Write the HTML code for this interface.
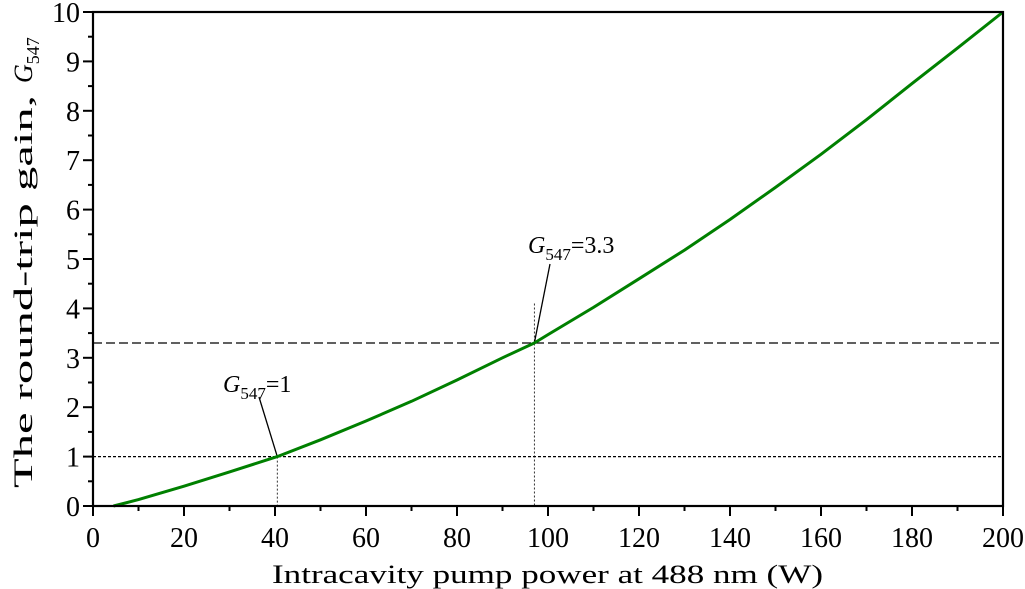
<!DOCTYPE html>
<html><head><meta charset="utf-8"><style>
body{margin:0;background:#fff}
svg{display:block;font-family:"Liberation Serif",serif}
</style></head><body>
<svg id="chart" width="1025" height="589" viewBox="0 0 1025 589" xmlns="http://www.w3.org/2000/svg">
<g id="plot"></g>
<text x="272" y="583" font-size="26" textLength="551" lengthAdjust="spacingAndGlyphs">Intracavity pump power at 488 nm (W)</text>
<text transform="translate(32,488) rotate(-90)" font-size="26"><tspan textLength="405" lengthAdjust="spacingAndGlyphs">The round-trip gain, </tspan><tspan font-style="italic">G</tspan><tspan font-size="18" dy="7">547</tspan></text>
<text x="223" y="392" font-size="24"><tspan font-style="italic">G</tspan><tspan font-size="17" dy="7">547</tspan><tspan dy="-7">=1</tspan></text>
<text x="528" y="253" font-size="24"><tspan font-style="italic">G</tspan><tspan font-size="17" dy="7">547</tspan><tspan dy="-7">=3.3</tspan></text>
</svg>
<script>
const xTicks=[0,20,40,60,80,100,120,140,160,180,200];
const yTicks=[0,1,2,3,4,5,6,7,8,9,10];
const curveX=[4.5,10,20,30,40.5,50,60,70,80,90,97,100,110,120,130,140,150,160,170,180,190,200];
const curveY=[0,0.13,0.4,0.69,1,1.34,1.72,2.12,2.55,3.0,3.3,3.47,4.02,4.6,5.18,5.8,6.45,7.12,7.82,8.55,9.27,10];
const refLevels=[1,3.3];
const refX=[40.5,97];
const X0=93,X1=1003,Y0=506,Y1=12;
const sx=v=>X0+(v-0)/(200-0)*(X1-X0);
const sy=v=>Y0-(v-0)/(10-0)*(Y0-Y1);
const NS="http://www.w3.org/2000/svg";
const g=document.getElementById('plot');
function mk(t,a){const e=document.createElementNS(NS,t);for(const k in a)e.setAttribute(k,a[k]);g.appendChild(e);return e;}
let e=mk('line',{x1:X0,x2:X1,y1:sy(refLevels[0]),y2:sy(refLevels[0]),stroke:'#000','stroke-width':1.3,'stroke-dasharray':'3,2'});


e=mk('line',{x1:X0,x2:X1,y1:sy(refLevels[1]),y2:sy(refLevels[1]),stroke:'#000','stroke-width':1.3,'stroke-dasharray':'9,4'});


e=mk('line',{x1:sx(refX[0]),x2:sx(refX[0]),y1:sy(refLevels[0]),y2:Y0,stroke:'#000','stroke-width':0.8,'stroke-dasharray':'2,2'});


e=mk('line',{x1:sx(refX[1]),x2:sx(refX[1]),y1:sy(4.1),y2:Y0,stroke:'#000','stroke-width':0.8,'stroke-dasharray':'2,2'});


e=mk('line',{x1:259,y1:397,x2:sx(refX[0]),y2:sy(refLevels[0]),stroke:'#000','stroke-width':1.3});


e=mk('line',{x1:550,y1:264,x2:sx(refX[1]),y2:sy(refLevels[1]),stroke:'#000','stroke-width':1.3});


let d='';
curveX.forEach((x,i)=>{d+=(i?'L':'M')+sx(x).toFixed(1)+','+sy(curveY[i]).toFixed(1);});
e=mk('path',{d:d,fill:'none',stroke:'#008000','stroke-width':3,'stroke-linejoin':'round'});


e=mk('rect',{x:X0,y:Y1,width:X1-X0,height:Y0-Y1,fill:'none',stroke:'#000','stroke-width':2.2});


xTicks.forEach((v,i)=>{
 const x=sx(v);
 let t=mk('line',{x1:x,x2:x,y1:Y0,y2:Y0+10,stroke:'#000','stroke-width':2});
 
 
 if(i<xTicks.length-1){const xm=sx(v+10);
  let m=mk('line',{x1:xm,x2:xm,y1:Y0,y2:Y0+5,stroke:'#000','stroke-width':2});
  
  }
 let l=mk('text',{x:x,y:547,'font-size':28,'text-anchor':'middle'});l.textContent=v;
 
 
});
yTicks.forEach((v,i)=>{
 const y=sy(v);
 let t=mk('line',{x1:X0-10,x2:X0,y1:y,y2:y,stroke:'#000','stroke-width':2});
 
 
 if(i<yTicks.length-1){const ym=sy(v+0.5);
  let m=mk('line',{x1:X0-5,x2:X0,y1:ym,y2:ym,stroke:'#000','stroke-width':2});
  
  }
 let l=mk('text',{x:X0-13,y:y+10,'font-size':28,'text-anchor':'end'});l.textContent=v;
 
 
});
</script>
</body></html>
